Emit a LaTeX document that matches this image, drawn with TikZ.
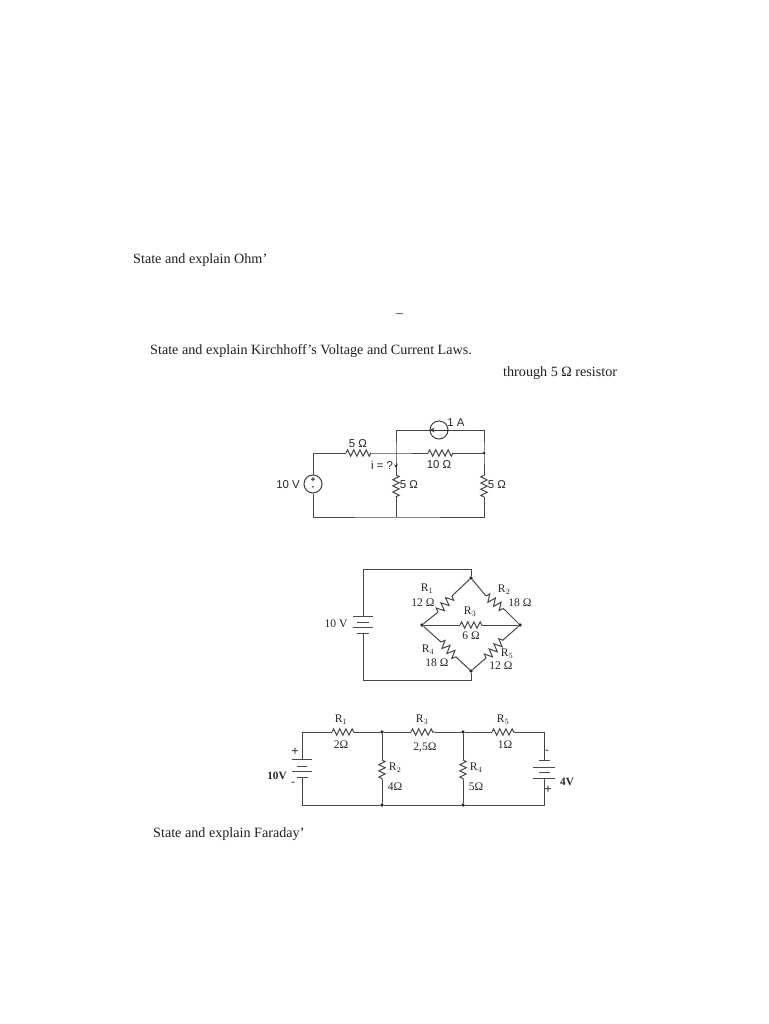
\documentclass[tikz,border=0pt]{standalone}
\usepackage{fontspec}
\setmainfont{Liberation Serif}
\setsansfont{Liberation Sans}
\usetikzlibrary{decorations.pathmorphing,arrows.meta}
\tikzset{
  wire/.style={draw=black!72,line width=1pt},
  zig/.style={wire,line join=miter,decorate,decoration={zigzag,segment length=6.2pt,amplitude=3.2pt}},
  zigd/.style={wire,line join=miter,decorate,decoration={zigzag,segment length=7pt,amplitude=4pt}},
  plate/.style={draw=black!70,line width=0.95pt},
  para/.style={anchor=base west,inner sep=0pt,font=\fontsize{14.15}{16}\selectfont,text=black!88},
  sanslab/.style={inner sep=0pt,font=\sffamily\fontsize{11.4}{13}\selectfont,text=black!85},
  seriflab/.style={inner sep=0pt,font=\fontsize{11.6}{13}\selectfont,text=black!85},
  boldlab/.style={inner sep=0pt,font=\bfseries\fontsize{11.2}{13}\selectfont,text=black!85},
  dot/.style={circle,fill=black!85,inner sep=0pt,minimum size=3.6pt},
  srcbox/.style={circle,draw=black!75,line width=1pt,fill=white,inner sep=0pt,minimum size=18pt},
}
\begin{document}
\begin{tikzpicture}[x=1pt,y=-1pt]
\useasboundingbox (0,0) rectangle (768,1024);
% Page text
\node[para] (t1) at (133,263) {State and explain Ohm’};
\node[para] (t2) at (396,317) {–};
\node[para] (t3) at (150,354.5) {State and explain Kirchhoff’s Voltage and Current Laws.};
\node[para] (t4) at (503,376.5) {through 5 Ω resistor};
\node[para] (t5) at (153,837) {State and explain Faraday’};

% Circuit 1
\coordinate (a1) at (313,453);
\coordinate (a2) at (396,453);
\coordinate (a3) at (484,453);
\coordinate (a4) at (313,517);
\coordinate (a5) at (396,517);
\coordinate (a6) at (484,517);
\coordinate (a7) at (396,430);
\coordinate (a8) at (484,430);
\coordinate (ra1) at (346,453);
\coordinate (ra2) at (371,453);
\coordinate (rb1) at (428,453);
\coordinate (rb2) at (453,453);
\coordinate (rc1) at (396,475);
\coordinate (rc2) at (396,497);
\coordinate (rd1) at (484,475);
\coordinate (rd2) at (484,497);
\coordinate (ia) at (396,463);
\coordinate (ib) at (396,468);
\node[srcbox] (vs) at (313,484) {};
\node[srcbox] (cs) at (439,430) {};
\draw[wire] (vs) -- (a1) -- (ra1);
\draw[zig] (ra1) -- (ra2);
\draw[wire] (ra2) -- (a2) -- (rb1);
\draw[zig] (rb1) -- (rb2);
\draw[wire] (rb2) -- (a3);
\draw[wire] (vs) -- (a4) -- (a5) -- (a6) -- (rd2);
\draw[zig] (rd2) -- (rd1);
\draw[wire] (rd1) -- (a3) -- (a8) -- (cs);
\draw[wire] (cs) -- (a7) -- (a2) -- (rc1);
\draw[zig] (rc1) -- (rc2);
\draw[wire] (rc2) -- (a5);
\node[dot,minimum size=2.6pt] (da3) at (a3) {};
\draw[-{Stealth[length=5pt,width=4.5pt]},black!80,line width=0.8pt] (cs.east) -- (cs.west);
\draw[-{Stealth[length=3.5pt,width=3.5pt]},black!80,line width=0.6pt] (ia) -- (ib);
\node[sanslab,align=center,font=\sffamily\bfseries\fontsize{8.5}{7}\selectfont] (vpm) at (313,484) {+\\-};
\node[sanslab] (l1) at (288,484.5) {10 V};
\node[sanslab] (l2) at (358,444) {5 Ω};
\node[sanslab] (l3) at (382,465.5) {i = ?};
\node[sanslab] (l4) at (409,484.5) {5 Ω};
\node[sanslab] (l5) at (439,465) {10 Ω};
\node[sanslab] (l6) at (456,422.5) {1 A};
\node[sanslab] (l7) at (497,484.5) {5 Ω};

% Circuit 2
\coordinate (b1) at (363,569);
\coordinate (b2) at (471,569);
\coordinate (b3) at (363,680);
\coordinate (b4) at (471,680);
\node[dot] (bt) at (471,578) {};
\node[dot] (bl) at (422,625) {};
\node[dot] (br) at (520,625) {};
\node[dot] (bb) at (471,671) {};
\coordinate (bp1) at (363,616);
\coordinate (bp2) at (363,633);
\draw[wire] (bp1) -- (b1) -- (b2) -- (bt);
\draw[wire] (bp2) -- (b3) -- (b4) -- (bb);
\draw[plate] (353,616) -- (373,616);
\draw[plate] (357,622) -- (369,622);
\draw[plate] (353,627) -- (373,627);
\draw[plate] (357,633) -- (369,633);
\coordinate (r1a) at (438,612);
\coordinate (r1b) at (454,594);
\coordinate (r2a) at (486,596);
\coordinate (r2b) at (505,610);
\coordinate (r3a) at (460,625);
\coordinate (r3b) at (482,625);
\coordinate (r4a) at (441,642);
\coordinate (r4b) at (456,657);
\coordinate (r5a) at (486,658);
\coordinate (r5b) at (503,640);
\draw[wire] (bl) -- (r1a); \draw[zigd] (r1a) -- (r1b); \draw[wire] (r1b) -- (bt);
\draw[wire] (bt) -- (r2a); \draw[zigd] (r2a) -- (r2b); \draw[wire] (r2b) -- (br);
\draw[wire,line width=0.6pt] (bl) -- (r3a); \draw[zig] (r3a) -- (r3b); \draw[wire,line width=0.6pt] (r3b) -- (br);
\draw[wire] (bl) -- (r4a); \draw[zigd] (r4a) -- (r4b); \draw[wire] (r4b) -- (bb);
\draw[wire] (bb) -- (r5a); \draw[zigd] (r5a) -- (r5b); \draw[wire] (r5b) -- (br);
\node[seriflab] (m0) at (336,623.5) {10 V};
\node[seriflab] (m1) at (427,589) {R$_1$};
\node[seriflab] (m1v) at (423,602.5) {12 Ω};
\node[seriflab] (m2) at (504,589.5) {R$_2$};
\node[seriflab] (m2v) at (520,602.5) {18 Ω};
\node[seriflab] (m3) at (470,612) {R$_3$};
\node[seriflab] (m3v) at (471,635.5) {6 Ω};
\node[seriflab] (m4) at (428,649.5) {R$_4$};
\node[seriflab] (m4v) at (437,663) {18 Ω};
\node[seriflab] (m5) at (507,654) {R$_5$};
\node[seriflab] (m5v) at (501,666) {12 Ω};

% Circuit 3
\coordinate (c1) at (302,732);
\coordinate (c2) at (544,732);
\coordinate (c3) at (302,805);
\coordinate (c4) at (544,805);
\node[dot] (cn1) at (382,732) {};
\node[dot] (cn2) at (463,732) {};
\node[dot] (cn3) at (382,805) {};
\node[dot] (cn4) at (463,805) {};
\coordinate (w1a) at (332,732);
\coordinate (w1b) at (354,732);
\coordinate (w3a) at (411,732);
\coordinate (w3b) at (435,732);
\coordinate (w5a) at (492,732);
\coordinate (w5b) at (515,732);
\coordinate (w2a) at (382,760);
\coordinate (w2b) at (382,780);
\coordinate (w4a) at (463,760);
\coordinate (w4b) at (463,780);
\coordinate (lb1) at (302,759);
\coordinate (lb2) at (302,777);
\coordinate (rb3) at (544,760);
\coordinate (rb4) at (544,778);
\draw[wire] (lb1) -- (c1) -- (w1a); \draw[zig] (w1a) -- (w1b);
\draw[wire] (w1b) -- (cn1) -- (w3a); \draw[zig] (w3a) -- (w3b);
\draw[wire] (w3b) -- (cn2) -- (w5a); \draw[zig] (w5a) -- (w5b);
\draw[wire] (w5b) -- (c2) -- (rb3);
\draw[wire] (rb4) -- (c4) -- (cn4) -- (cn3) -- (c3) -- (lb2);
\draw[wire] (cn1) -- (w2a); \draw[zig] (w2a) -- (w2b); \draw[wire] (w2b) -- (cn3);
\draw[wire] (cn2) -- (w4a); \draw[zig] (w4a) -- (w4b); \draw[wire] (w4b) -- (cn4);
\draw[plate] (292,759) -- (312,759);
\draw[plate] (297,766) -- (307,766);
\draw[plate] (292,771) -- (312,771);
\draw[plate] (297,777) -- (308,777);
\draw[plate] (539,760) -- (550,760);
\draw[plate] (533,767) -- (555,767);
\draw[plate] (539,772) -- (550,772);
\draw[plate] (533,778) -- (555,778);
\node[boldlab] (n0) at (277,776) {10V};
\node[boldlab,font=\bfseries\fontsize{13}{14}\selectfont] (np) at (295,752) {+};
\node[seriflab] (nm) at (293,784) {-};
\node[seriflab] (n1) at (341,720) {R$_1$};
\node[seriflab] (n1v) at (341,745) {2Ω};
\node[seriflab] (n2) at (395,768) {R$_2$};
\node[seriflab] (n2v) at (395,787) {4Ω};
\node[seriflab] (n3) at (422,720) {R$_3$};
\node[seriflab] (n3v) at (425,748) {2,5Ω};
\node[seriflab] (n4) at (476,768) {R$_4$};
\node[seriflab] (n4v) at (476,787) {5Ω};
\node[seriflab] (n5) at (503,720) {R$_5$};
\node[seriflab] (n5v) at (505,745) {1Ω};
\node[boldlab] (n6) at (567,781.5) {4V};
\node[seriflab] (n7) at (547,752) {-};
\node[boldlab,font=\bfseries\fontsize{13}{14}\selectfont] (n8) at (548,790) {+};
\end{tikzpicture}
\end{document}
